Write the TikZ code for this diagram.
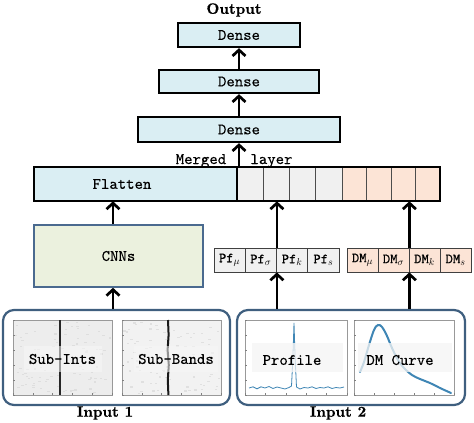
\documentclass[tikz,border=0pt]{standalone}
\usepackage{fontspec}
\usetikzlibrary{arrows.meta}
\newfontfamily\boxfont{lmmono10-regular.otf}[FakeBold=0.3]
\newfontfamily\labfont{lmroman10-bold.otf}[FakeBold=0.6]
\definecolor{denseblue}{HTML}{DAEEF3}
\definecolor{cellgray}{HTML}{F0F0F0}
\definecolor{cellorange}{HTML}{FCE4D6}
\definecolor{cnngreen}{HTML}{EBF1DE}
\definecolor{frameblue}{HTML}{3F5F7F}
\definecolor{cnnframe}{HTML}{4A6A8F}
\definecolor{curveblue}{HTML}{3F86B5}
\begin{document}
\begin{tikzpicture}[x=1pt,y=-1pt,
  box/.style={draw=black,line width=2.3pt,fill=denseblue,inner sep=0pt,font=\boxfont\fontsize{16}{18}\selectfont},
  cell/.style={draw=black!70,line width=0.6pt,inner sep=0pt,minimum height=34pt},
  feat/.style={draw=black!75,line width=0.8pt,inner sep=0pt,minimum height=24pt,font=\boxfont\fontsize{14}{16}\selectfont},
  arr/.style={line width=2.7pt,-{Straight Barb[length=6pt,width=13pt]}},
  lab/.style={font=\labfont\fontsize{15}{17}\selectfont,inner sep=0pt},
  txt/.style={font=\boxfont\fontsize{16}{18}\selectfont,inner sep=1pt},
  inbox/.style={draw=frameblue,line width=2.2pt,rounded corners=11pt,inner sep=0pt},
  picbox/.style={draw=black!40,line width=0.6pt,inner sep=0pt,minimum height=75pt}
]
\useasboundingbox (0,0) rectangle (474,423);

% ---- dense stack
\node[lab] (out) at (234,10) {Output};
\node[box,minimum width=122pt,minimum height=24pt] (d1) at (239,35) {Dense};
\node[box,minimum width=160pt,minimum height=23pt] (d2) at (239,81.5) {Dense};
\node[box,minimum width=202pt,minimum height=25pt] (d3) at (239,129.5) {Dense};
\draw[arr] (d2.north) -- (d1.south);
\draw[arr] (d3.north) -- (d2.south);

% ---- merged layer
\node[cell,fill=denseblue,minimum width=203pt] (fl) at (135.5,184) {};
\node[txt] (fltxt) at (122,184) {Flatten};
\node[cell,fill=cellgray,minimum width=26.25pt] (g1) at (250.125,184) {};
\node[cell,fill=cellgray,minimum width=26.25pt] (g2) at (276.375,184) {};
\node[cell,fill=cellgray,minimum width=26.25pt] (g3) at (302.625,184) {};
\node[cell,fill=cellgray,minimum width=26.25pt] (g4) at (328.875,184) {};
\node[cell,fill=cellorange,minimum width=24.5pt] (o1) at (354.25,184) {};
\node[cell,fill=cellorange,minimum width=24.5pt] (o2) at (378.75,184) {};
\node[cell,fill=cellorange,minimum width=24.5pt] (o3) at (403.25,184) {};
\node[cell,fill=cellorange,minimum width=24.5pt] (o4) at (427.75,184) {};
\draw[line width=2.3pt] (fl.north west) rectangle (o4.south east);
\draw[line width=2.3pt] (fl.north east) -- (fl.south east);
\node[txt,anchor=base] (m1) at (201,164) {Merged};
\node[txt,anchor=base] (m2) at (271.5,164) {layer};
\draw[arr] (g1.north -| d3.south) -- (d3.south);

% ---- CNNs
\coordinate (cx) at (113,0);
\node[draw=cnnframe,line width=1.6pt,fill=cnngreen,minimum width=169pt,minimum height=62pt,inner sep=0pt,font=\boxfont\fontsize{16}{18}\selectfont] (cnn) at (118.5,256) {CNNs};
\draw[arr] (cnn.north -| cx) -- (fl.south -| cx);

% ---- feature cells
\node[feat,fill=cellgray,minimum width=31.25pt] (pf1) at (229.625,260) {Pf$_\mu$};
\node[feat,fill=cellgray,minimum width=31.25pt] (pf2) at (260.875,260) {Pf$_\sigma$};
\node[feat,fill=cellgray,minimum width=31.25pt] (pf3) at (292.125,260) {Pf$_k$};
\node[feat,fill=cellgray,minimum width=31.25pt] (pf4) at (323.375,260) {Pf$_s$};
\node[feat,fill=cellorange,minimum width=31pt] (dm1) at (362.5,260) {DM$_\mu$};
\node[feat,fill=cellorange,minimum width=31pt] (dm2) at (393.5,260) {DM$_\sigma$};
\node[feat,fill=cellorange,minimum width=31pt] (dm3) at (424.5,260) {DM$_k$};
\node[feat,fill=cellorange,minimum width=31pt] (dm4) at (455.5,260) {DM$_s$};
\draw[arr] (pf2.north east) -- (pf2.north east |- g2.south);
\draw[arr] (dm2.north east) -- (dm2.north east |- o3.south);

% ---- input boxes
\node[inbox,minimum width=227pt,minimum height=95pt] (in1) at (116.5,357.5) {};
\node[inbox,minimum width=228pt,minimum height=95pt] (in2) at (351,357.5) {};
\draw[arr] (in1.north -| cx) -- (cnn.south -| cx);
\draw[arr] (in2.north -| pf2.east) -- (pf2.south east);
\draw[arr] (in2.north -| dm2.east) -- (dm2.south east);

% ---- images
\node[picbox,fill=black!7,minimum width=99pt] (si) at (62.5,357.5) {};
\node[picbox,fill=black!5,minimum width=99pt] (sb) at (171.5,357.5) {};
\node[picbox,fill=white,minimum width=102pt] (pr) at (296,357.5) {};
\node[picbox,fill=white,minimum width=100pt] (dc) at (404,357.5) {};

\pgfmathsetseed{7}
\foreach \i in {1,...,90}{
  \pgfmathsetmacro\rx{14+96*rnd}\pgfmathsetmacro\ry{321+72*rnd}
  \fill[black!13] (\rx,\ry) rectangle ++(2.5,1.2);
  \pgfmathsetmacro\sx{123+96*rnd}\pgfmathsetmacro\sy{321+72*rnd}
  \fill[black!12] (\sx,\sy) rectangle ++(2.5,1.2);
}
\draw[line width=1.8pt,black!85] (60,320) -- (60,395);
\draw[line width=2pt,black!90] (168,320) -- (168.6,335) -- (167.6,350) -- (168.8,365) -- (167.8,380) -- (168.4,395);

% ticks
\foreach \k in {0,...,5}{
  \draw[black!50,line width=0.4pt] (13+\k*19.8,395) -- ++(0,-2);
  \draw[black!50,line width=0.4pt] (122+\k*19.8,395) -- ++(0,-2);
  \draw[black!50,line width=0.4pt] (245+\k*20.4,395) -- ++(0,-2);
  \draw[black!50,line width=0.4pt] (354+\k*20,395) -- ++(0,-2);
  \draw[black!50,line width=0.4pt] (13,320+\k*15) -- ++(2,0);
  \draw[black!50,line width=0.4pt] (122,320+\k*15) -- ++(2,0);
  \draw[black!50,line width=0.4pt] (245,320+\k*15) -- ++(2,0);
  \draw[black!50,line width=0.4pt] (354,320+\k*15) -- ++(2,0);
}

% profile curve
\draw[curveblue,line width=0.8pt] (249,388)--(253,386.8)--(257,388.8)--(261,386.8)--(265,388)--(269,386.5)--(273,388.5)--(277,387)--(281,388)--(285,389)--(289,387.5)--(291.5,386)--(292.8,360)--(294,323)--(295.2,360)--(296.5,387)--(300,389)--(304,387.5)--(308,388)--(312,386.8)--(316,388.5)--(320,387.5)--(324,388)--(328,386.8)--(332,388.5)--(336,387.5)--(340,388)--(344,387);
% DM curve
\draw[curveblue,line width=2pt,line cap=round] plot[smooth,tension=0.6] coordinates {(360,372)(364,362)(369,345)(374,330)(378,325)(382,327)(387,336)(392,348)(398,360)(404,368)(412,375)(420,379)(430,383)(440,388)(451,393)};

% label bands
\fill[black!4,opacity=0.75] (252,343) rectangle (343,372);
\fill[black!4,opacity=0.75] (358,343) rectangle (452,372);
\fill[black!3,opacity=0.55] (24,346) rectangle (102,372);
\fill[black!3,opacity=0.55] (134,346) rectangle (218,372);

\node[txt] (sit) at (62.5,359) {Sub-Ints};
\node[txt] (sbt) at (176,359) {Sub-Bands};
\node[txt] (prt) at (292,360) {Profile};
\node[txt] (dct) at (400,360) {DM Curve};

\node[lab] (l1) at (105,413) {Input 1};
\node[lab] (l2) at (338,413) {Input 2};
\end{tikzpicture}
\end{document}
